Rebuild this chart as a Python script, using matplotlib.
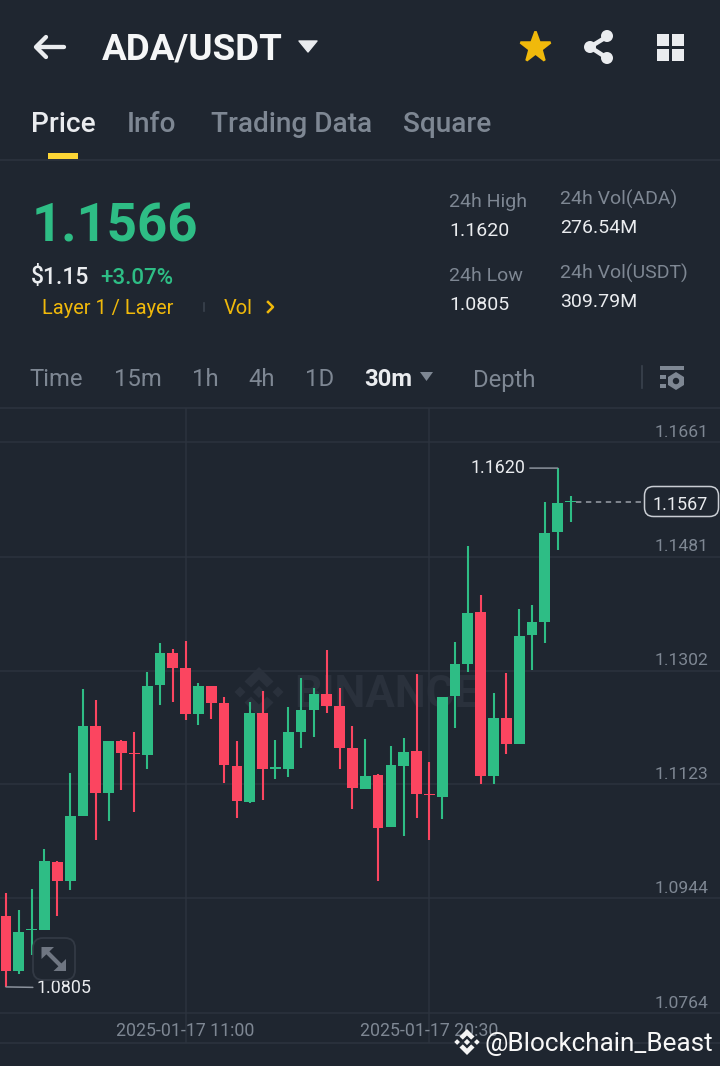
import matplotlib
matplotlib.use("Agg")
import matplotlib.pyplot as plt
from matplotlib.patches import Polygon, Rectangle, Circle, FancyBboxPatch
from matplotlib.transforms import ScaledTranslation

# ---- data ----
opens = [1.0917,1.0830,1.0894,1.0894,1.1002,1.0972,1.1073,1.1215,1.1109,1.1191,1.1172,1.1170,1.1280,1.1330,1.1306,1.1233,1.1278,1.1251,1.1152,
         1.1096,1.1236,1.1148,1.1148,1.1206,1.1240,1.1265,1.1247,1.1181,1.1116,1.1138,1.1056,1.1152,1.1176,1.1107,1.1104,1.1262,1.1313,1.1394,1.1137,
         1.1228,1.1186,1.1358,1.1378,1.1519,1.1566]
closes = [1.0830,1.0892,1.0895,1.1003,1.0972,1.1073,1.1215,1.1109,1.1191,1.1173,1.1171,1.1278,1.1330,1.1306,1.1233,1.1278,1.1251,1.1154,1.1097,
          1.1235,1.1147,1.1149,1.1205,1.1240,1.1265,1.1247,1.1181,1.1117,1.1137,1.1054,1.1153,1.1174,1.1108,1.1106,1.1261,1.1313,1.1393,1.1137,1.1227,
          1.1187,1.1356,1.1378,1.1518,1.1565,1.1567]
highs = [1.0953,1.0926,1.0959,1.1022,1.1003,1.1141,1.1273,1.1255,1.1192,1.1193,1.1206,1.1300,1.1346,1.1336,1.1348,1.1282,1.1278,1.1260,1.1192,
         1.1252,1.1270,1.1193,1.1244,1.1291,1.1275,1.1334,1.1274,1.1215,1.1194,1.1139,1.1184,1.1196,1.1296,1.1158,1.1261,1.1347,1.1498,1.1421,1.1266,
         1.1298,1.1399,1.1405,1.1567,1.1620,1.1576]
lows = [1.0805,1.0825,1.0855,1.0894,1.0916,1.0957,1.1073,1.1035,1.1065,1.1115,1.1080,1.1147,1.1248,1.1253,1.1225,1.1217,1.1226,1.1125,1.1071,
        1.1094,1.1098,1.1131,1.1135,1.1181,1.1198,1.1235,1.1148,1.1085,1.1116,1.0972,1.1056,1.1042,1.1071,1.1035,1.1069,1.1212,1.1300,1.1124,1.1124,
        1.1171,1.1186,1.1303,1.1346,1.1492,1.1536]
price_ticks = [1.1661, 1.1481, 1.1302, 1.1123, 1.0944, 1.0764]
time_ticks = [14, 33]
time_labels = ["2025-01-17 11:00", "2025-01-17 20:30"]
last_price = 1.1567
high_price = 1.1620
low_price = 1.0805
high_idx = 43
low_idx = 0
last_idx = 44
timeframes = ["Time", "15m", "1h", "4h", "1D", "30m", "Depth"]
tabs = ["Price", "Info", "Trading Data", "Square"]

# ---- style ----
W, H = 720, 1066
BG = "#1F2630"
GRID = "#2C333E"
GREEN = "#2EBD85"
RED = "#FB4560"
GRAY = "#7E8793"
LIGHT = "#EAECEF"
YEL = "#F0B90B"
MARK = "#2A313C"
plt.rcParams["font.family"] = ["Roboto", "DejaVu Sans"]

fig = plt.figure(figsize=(W / 100, H / 100), dpi=100, facecolor=BG)

# chart axes (pixel band 408..1043)
ax = fig.add_axes([0, 1 - 1043 / H, 1, (1043 - 408) / H], facecolor=BG)
PX = 0.00015709
ax.set_ylim(1.1661 - (1043 - 442) * PX, 1.1661 + (442 - 408) * PX)
ax.set_xlim((0 - 6) / 12.83, (720 - 6) / 12.83)
for s in ax.spines.values():
    s.set_visible(False)
ax.spines["top"].set_visible(True); ax.spines["top"].set_color(GRID); ax.spines["top"].set_linewidth(1.2)
ax.spines["bottom"].set_visible(True); ax.spines["bottom"].set_color(GRID); ax.spines["bottom"].set_linewidth(1.2)
ax.set_axisbelow(True)
ax.grid(True, color=GRID, linewidth=1.1)

ax.set_yticks(price_ticks)
ax.set_yticklabels([f"{p:.4f}" for p in price_ticks])
ax.yaxis.tick_right()
ax.tick_params(axis="y", length=0, pad=-47.2, labelsize=12.6, labelcolor=GRAY)
up = ScaledTranslation(0, 1.6 / 72, fig.dpi_scale_trans)
for lab in ax.get_yticklabels():
    lab.set_va("bottom")
    lab.set_transform(lab.get_transform() + up)

ax.set_xticks(time_ticks)
ax.set_xticklabels(time_labels)
ax.tick_params(axis="x", length=0, direction="in", pad=-15, labelsize=12.8, labelcolor=GRAY)

# watermark
ax.text(387 / W, 0.548, "BINANCE", transform=ax.transAxes, ha="center", va="center",
        fontsize=31.5, fontweight="bold", color=MARK, zorder=1, family=["Roboto"])

for i, (o, c, h, l) in enumerate(zip(opens, closes, highs, lows)):
    col = GREEN if c >= o else RED
    ax.vlines(i, l, h, color=col, linewidth=1.5, zorder=3)
    ax.bar(i, max(abs(c - o), 0.0002), bottom=min(o, c), width=0.84, color=col, zorder=4, linewidth=0)

# high/low leaders and current price marker
ax.annotate(f"{high_price:.4f}", xy=(high_idx, high_price), xytext=(-32, 0),
            textcoords="offset pixels", ha="right", va="center", fontsize=12.9, color=LIGHT,
            arrowprops=dict(arrowstyle="-", color="#8B929C", lw=1.1, shrinkA=1, shrinkB=0), zorder=6)
ax.annotate(f"{low_price:.4f}", xy=(low_idx, low_price), xytext=(31, -1),
            textcoords="offset pixels", ha="left", va="center", fontsize=12.9, color=LIGHT,
            arrowprops=dict(arrowstyle="-", color="#8B929C", lw=1.1, shrinkA=1, shrinkB=0), zorder=6)
ax.plot([last_idx + 0.4, 49.7], [last_price, last_price], color="#9AA0A9", lw=1.1, dashes=(3.5, 3), zorder=3)
ax.annotate(f"{last_price:.4f}", xy=(54.7, last_price), xytext=(0, -3), textcoords="offset pixels",
            ha="right", va="center", fontsize=13, color=LIGHT, zorder=7)

# ---- overlay in pixel coordinates for the app chrome ----
ui = fig.add_axes([0, 0, 1, 1], facecolor="none")
ui.set_xlim(0, W); ui.set_ylim(H, 0); ui.axis("off")

def T(x, y, s, size, color, weight="normal", ha="left", va="center"):
    ui.text(x, y, s, fontsize=size, color=color, fontweight=weight, ha=ha, va=va)

def logo(host, cx, cy, s, color, z):
    def add(pts):
        host.add_patch(Polygon(pts, fc=color, ec="none", zorder=z, transform=ui.transData))
    def dia(x, y, r):
        add([[x, y - r], [x + r, y], [x, y + r], [x - r, y]])
    dia(cx, cy, 0.24 * s)
    dia(cx - 0.76 * s, cy, 0.22 * s)
    dia(cx + 0.76 * s, cy, 0.22 * s)
    for sg in (-1, 1):
        add([[cx, cy + sg * s], [cx + 0.58 * s, cy + sg * 0.42 * s], [cx + 0.32 * s, cy + sg * 0.18 * s],
             [cx, cy + sg * 0.5 * s], [cx - 0.32 * s, cy + sg * 0.18 * s], [cx - 0.58 * s, cy + sg * 0.42 * s]])

# price box
ui.add_patch(FancyBboxPatch((644.5, 486.5), 74, 30, boxstyle="round,pad=0,rounding_size=9", fc="none",
                            ec="#C9CDD3", lw=1.1, mutation_aspect=1))

# header
ui.plot([37, 64], [47, 47], color=LIGHT, lw=3.1, solid_capstyle="round")
ui.plot([46, 36, 46], [37, 47, 57], color=LIGHT, lw=3.1, solid_capstyle="round", solid_joinstyle="round")
T(102, 50, "ADA/USDT", 26.5, "#F5F6F7", "bold")
ui.add_patch(Polygon([[299, 41], [317, 41], [308, 52]], fc=LIGHT, ec=LIGHT, lw=1, joinstyle="round"))
ui.plot([535], [47], marker="*", ms=23, color=YEL, mec=YEL, mew=1.8)
ui.plot([608, 590, 607], [36, 47, 58], color=LIGHT, lw=3.2)
for cx, cy in [(607, 36), (590, 47), (607, 58)]:
    ui.add_patch(Circle((cx, cy), 6, fc=LIGHT, ec="none"))
for x0 in (657, 672):
    for y0 in (34, 49):
        ui.add_patch(Rectangle((x0, y0), 12, 12, fc=LIGHT, ec="none"))

# tabs
tab_x = [31, 127, 211, 403]
for k, (tx, tb) in enumerate(zip(tab_x, tabs)):
    T(tx, 125, tb, 20.2, LIGHT if k == 0 else GRAY, "medium")
ui.add_patch(Rectangle((48, 153), 30, 6, fc="#FCD535", ec="none"))
ui.plot([0, W], [159.5, 159.5], color=GRID, lw=1.2)

# price block
T(32, 227, "1.1566", 38, GREEN, "bold")
T(31, 278, "$1.15", 16.5, LIGHT, "medium")
T(100, 278, "+3.07%", 16, GREEN, "medium")
T(42, 308, "Layer 1 / Layer", 14.4, YEL)
ui.plot([204, 204], [303, 311], color="#3A424E", lw=1.2)
T(224, 308, "Vol", 14.4, YEL)
ui.plot([268, 273, 268], [302, 307, 312], color=YEL, lw=1.8)

for x, lab, val, yl, yv in [(449, "24h High", "1.1620", 202, 231),
                            (449, "24h Low", "1.0805", 276, 305),
                            (560, "24h Vol(ADA)", "276.54M", 199, 228),
                            (560, "24h Vol(USDT)", "309.79M", 273, 302)]:
    T(x, yl, lab, 14, GRAY)
    T(x, yv, val, 14, LIGHT)

# timeframes
tf_x = [29, 114, 192, 248, 305, 364, 473]
for tx, tf in zip(tf_x, timeframes):
    T(tx, 380, tf, 17.2, LIGHT if tf == "30m" else GRAY, "bold" if tf == "30m" else "normal")
ui.add_patch(Polygon([[420, 372], [433, 372], [426.5, 381]], fc=GRAY, ec="none"))
ui.plot([642, 642], [366, 388], color="#3A424E", lw=1.2)
ui.add_patch(Rectangle((660, 366), 24, 4, fc=GRAY, ec="none"))
ui.add_patch(Rectangle((660, 375), 6, 3.5, fc=GRAY, ec="none"))
ui.add_patch(Rectangle((660, 384), 6, 3.5, fc=GRAY, ec="none"))
ui.add_patch(Polygon([[676, 372], [684, 377], [684, 385], [676, 390], [668, 385], [668, 377]], fc=GRAY, ec="none"))
ui.add_patch(Circle((676, 381), 3.2, fc=BG, ec="none"))

# expand button
ui.add_patch(FancyBboxPatch((33, 938), 42, 42, boxstyle="round,pad=0,rounding_size=10", fc=BG, ec="#343B46", lw=1.3, alpha=0.92, zorder=5))
ui.add_patch(Polygon([[41.5, 947], [54, 947], [41.5, 959]], fc="#6F7682", ec="none", zorder=6))
ui.add_patch(Polygon([[66, 971], [53.5, 971], [66, 959]], fc="#6F7682", ec="none", zorder=6))
ui.plot([45, 63], [950, 968], color="#6F7682", lw=3, zorder=6)

# watermark logo (faint, behind the candles) and user credit
logo(ax, 259, 692, 25, MARK, 1)
logo(ui, 467, 1042, 13, "#F4F4F4", 8)
T(484, 1044, "@Blockchain_Beast", 18.8, "#F7F7F7", "normal")

fig.savefig("out.png", dpi=100, facecolor=BG)
